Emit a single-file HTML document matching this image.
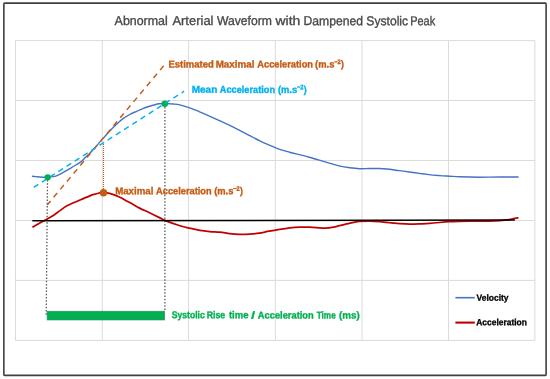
<!DOCTYPE html>
<html><head><meta charset="utf-8"><title>Abnormal Arterial Waveform</title>
<style>
html,body{margin:0;padding:0;background:#fff;}
svg{display:block;font-family:"Liberation Sans",sans-serif;text-rendering:geometricPrecision;}
.b{font-weight:bold;font-size:10px;stroke-width:0.35px;}
.t{font-size:12.9px;stroke-width:0.35px;}
.l{font-weight:bold;font-size:9px;stroke-width:0.3px;}
</style></head><body>
<svg width="550" height="379" viewBox="0 0 550 379">
<rect x="0" y="0" width="550" height="379" fill="#fff"/>
<rect x="3.85" y="3.1" width="542.25" height="372.25" rx="0.8" fill="#fff" stroke="#404040" stroke-width="1.6"/>
<g stroke="#dbdbdb" stroke-width="1" fill="none"><path d="M15.5 40.6V340.4"/><path d="M102.3 40.6V340.4"/><path d="M188.6 40.6V340.4"/><path d="M275.3 40.6V340.4"/><path d="M362.0 40.6V340.4"/><path d="M448.5 40.6V340.4"/><path d="M534.9 40.6V340.4"/><path d="M15.5 40.6H534.9"/><path d="M15.5 100.5H534.9"/><path d="M15.5 160.5H534.9"/><path d="M15.5 220.5H534.9"/><path d="M15.5 280.4H534.9"/><path d="M15.5 340.4H534.9"/></g>
<text class="t" y="25.1" fill="#484848" stroke="#484848" transform="matrix(1 0.0010 0 1 0 -0.275)"><tspan x="114.60" textLength="53.17" lengthAdjust="spacingAndGlyphs">Abnormal</tspan> <tspan x="172.40" textLength="41.11" lengthAdjust="spacingAndGlyphs">Arterial</tspan> <tspan x="216.90" textLength="55.07" lengthAdjust="spacingAndGlyphs">Waveform</tspan> <tspan x="275.57" textLength="24.78" lengthAdjust="spacingAndGlyphs">with</tspan> <tspan x="303.53" textLength="59.41" lengthAdjust="spacingAndGlyphs">Dampened</tspan> <tspan x="366.35" textLength="41.75" lengthAdjust="spacingAndGlyphs">Systolic</tspan> <tspan x="410.23" textLength="24.92" lengthAdjust="spacingAndGlyphs">Peak</tspan></text>
<g fill="none" stroke-linecap="butt">
<path d="M47.5 180L46.2 316M164.9 107V311" stroke="#5a5a5a" stroke-width="1.3" stroke-dasharray="1.6 1.65"/>
<path d="M103.5 142V190" stroke="#C55A11" stroke-width="1.1" stroke-dasharray="1 1"/>
<path d="M32.5 176.2C33.1 176.3 34.8 176.5 36.0 176.6C37.2 176.7 38.7 176.9 40.0 177.0C41.3 177.1 42.7 177.2 44.0 177.2C45.3 177.2 45.7 177.2 47.7 177.0C49.7 176.8 53.1 176.9 55.8 176.1C58.5 175.3 61.1 173.5 63.7 172.1C66.3 170.7 68.9 169.2 71.6 167.6C74.2 166.0 77.8 163.9 79.6 162.7C81.4 161.5 81.5 161.3 82.4 160.5C83.3 159.7 83.7 159.1 85.0 157.8C86.3 156.5 88.3 154.6 90.0 152.9C91.7 151.2 93.3 149.3 95.0 147.5C96.7 145.7 98.7 143.4 100.0 141.9C101.3 140.4 101.8 139.7 103.0 138.4C104.2 137.1 105.7 135.4 107.0 134.0C108.3 132.6 109.7 131.1 111.0 129.7C112.3 128.3 113.7 127.0 115.0 125.7C116.3 124.4 117.7 123.2 119.0 122.0C120.3 120.8 121.8 119.5 123.0 118.6C124.2 117.6 125.2 117.0 126.5 116.3C127.8 115.5 129.1 114.8 130.5 114.1C131.9 113.4 133.4 112.7 135.0 112.0C136.6 111.3 138.0 110.6 140.0 109.8C142.0 109.0 144.7 107.8 147.2 107.0C149.7 106.2 153.1 105.2 155.0 104.7C156.9 104.2 156.8 104.0 158.4 103.8C160.0 103.6 162.1 103.5 164.7 103.5C167.3 103.5 171.7 103.9 174.2 104.1C176.7 104.3 177.2 104.3 179.8 104.9C182.4 105.5 186.4 106.7 189.7 107.8C193.0 108.9 196.3 110.4 199.6 111.8C202.9 113.2 206.2 114.6 209.5 116.1C212.8 117.6 216.1 119.2 219.4 120.7C222.7 122.2 226.0 123.6 229.3 125.2C232.6 126.8 235.9 128.5 239.2 130.2C242.5 131.9 245.7 133.5 249.1 135.3C252.5 137.1 256.4 139.2 259.9 140.9C263.3 142.6 266.5 143.9 269.8 145.3C273.1 146.7 276.4 148.2 279.7 149.3C283.0 150.5 286.3 151.3 289.6 152.2C292.9 153.1 296.2 153.8 299.5 154.6C302.8 155.4 306.1 156.3 309.4 157.2C312.7 158.1 316.0 159.1 319.3 160.1C322.6 161.1 325.9 162.1 329.2 163.1C332.5 164.1 335.7 165.1 339.1 165.9C342.6 166.7 346.4 167.3 349.9 167.8C353.3 168.3 356.5 168.6 359.8 168.7C363.1 168.8 366.4 168.5 369.7 168.5C373.0 168.5 376.3 168.4 379.6 168.5C382.9 168.6 386.2 169.0 389.5 169.3C392.8 169.7 396.1 170.2 399.4 170.6C402.7 171.0 406.0 171.5 409.3 172.0C412.6 172.5 415.9 173.0 419.2 173.4C422.5 173.8 425.7 174.2 429.1 174.6C432.6 175.0 436.4 175.3 439.9 175.6C443.3 175.9 446.5 176.0 449.8 176.2C453.1 176.4 454.8 176.6 459.7 176.8C464.6 177.0 472.9 177.2 479.5 177.2C486.1 177.2 492.9 177.0 499.3 177.0C505.7 177.0 515.0 177.0 518.1 177.0" stroke="#4472C4" stroke-width="1.4" stroke-linecap="round" stroke-linejoin="round"/>
<path d="M163.7 65.8L47.2 205" stroke="#C55A11" stroke-width="1.45" stroke-dasharray="5.6 4.77"/>
<path d="M32.9 226.9C34.0 226.2 37.9 224.1 39.8 223.0C41.7 221.9 43.0 221.2 44.5 220.4C46.0 219.6 47.5 218.8 49.0 217.9C50.5 217.0 51.9 216.4 53.7 215.2C55.5 214.0 57.5 212.4 59.6 210.9C61.7 209.4 64.2 207.4 66.5 206.1C68.8 204.8 71.3 203.8 73.5 202.8C75.7 201.8 76.8 201.3 79.4 200.2C82.0 199.1 87.0 197.0 89.3 196.1C91.6 195.2 91.3 195.2 93.0 194.7C94.7 194.2 97.5 193.4 99.2 193.0C101.0 192.6 101.8 192.4 103.5 192.5C105.2 192.6 106.8 192.6 109.5 193.3C112.2 194.1 116.0 195.5 119.4 197.0C122.8 198.6 126.3 200.8 129.7 202.6C133.1 204.4 136.3 206.4 139.6 208.1C142.9 209.8 146.2 211.1 149.5 212.7C152.8 214.3 156.8 216.3 159.4 217.6C162.0 218.9 162.0 219.2 165.3 220.6C168.6 221.9 175.2 224.2 179.2 225.5C183.2 226.8 185.9 227.4 189.4 228.2C192.9 229.0 196.5 229.8 199.9 230.4C203.3 231.0 206.5 231.3 209.8 231.6C213.1 231.9 216.4 231.9 219.7 232.2C223.0 232.5 226.3 233.2 229.6 233.6C232.9 234.0 236.2 234.3 239.5 234.4C242.8 234.5 246.1 234.4 249.4 234.2C252.7 234.0 256.0 233.7 259.3 233.2C262.6 232.7 265.8 231.8 269.2 231.2C272.6 230.6 276.1 230.0 279.5 229.4C282.9 228.8 286.5 228.2 289.9 227.8C293.3 227.4 296.5 227.2 299.8 227.1C303.1 227.0 306.4 227.0 309.7 227.1C313.0 227.2 317.0 227.7 319.6 227.9C322.2 228.1 323.2 228.2 325.5 228.1C327.8 228.0 331.2 227.5 333.5 227.1C335.8 226.7 336.8 226.3 339.4 225.7C342.0 225.1 346.0 224.0 349.3 223.3C352.6 222.6 355.8 221.8 359.2 221.4C362.6 221.0 366.1 221.0 369.5 221.0C372.9 221.0 376.5 221.3 379.9 221.6C383.3 221.9 386.5 222.3 389.8 222.7C393.1 223.0 396.4 223.5 399.7 223.7C403.0 223.9 406.3 224.1 409.6 224.1C412.9 224.1 416.2 224.0 419.5 223.9C422.8 223.8 426.1 223.5 429.4 223.3C432.7 223.1 436.0 222.8 439.3 222.5C442.6 222.2 445.9 221.9 449.2 221.7C452.5 221.5 455.6 221.4 459.1 221.3C462.6 221.2 466.5 221.1 470.0 221.1C473.5 221.1 475.8 221.2 480.0 221.2C484.2 221.2 490.8 221.2 495.0 221.0C499.2 220.8 502.2 220.5 505.0 220.2C507.8 219.9 509.9 219.4 512.0 219.0C514.1 218.6 516.8 218.0 517.8 217.8" stroke="#C00000" stroke-width="1.75" stroke-linecap="round" stroke-linejoin="round"/>
<path d="M32.3 220.8L514.8 220.0" stroke="#000" stroke-width="1.6"/>
</g>
<circle cx="164.8" cy="103.7" r="3.25" fill="#00B050"/>
<path d="M33.7 187.3 L184.1 91.2" stroke="#00B0F0" stroke-width="1.4" stroke-dasharray="5.5 4.25" fill="none"/>
<circle cx="47.7" cy="177.3" r="3.15" fill="#00B050"/>
<circle cx="103.5" cy="192.8" r="3.7" fill="#C55A11"/>
<rect x="47.1" y="311.2" width="117.6" height="8.8" fill="#00B050" stroke="#2F8F6A" stroke-width="0.6"/>
<text class="b" y="67.5" fill="#C55A11" stroke="#C55A11" transform="matrix(1 0.0010 0 1 0 -0.256)"><tspan x="168.38" textLength="45.44" lengthAdjust="spacingAndGlyphs">Estimated</tspan> <tspan x="215.66" textLength="38.91" lengthAdjust="spacingAndGlyphs">Maximal</tspan> <tspan x="257.31" textLength="55.75" lengthAdjust="spacingAndGlyphs">Acceleration</tspan> <tspan x="315.08" textLength="19.26" lengthAdjust="spacingAndGlyphs">(m.s</tspan><tspan x="334.17" textLength="6.54" lengthAdjust="spacingAndGlyphs" dy="-3.6" font-size="6.6">−2</tspan><tspan x="341.00" textLength="2.92" lengthAdjust="spacingAndGlyphs" dy="3.6">)</tspan></text>
<text class="b" y="92.9" fill="#00B0F0" stroke="#00B0F0" transform="matrix(1 0.0010 0 1 0 -0.249)"><tspan x="191.65" textLength="25.66" lengthAdjust="spacingAndGlyphs">Mean</tspan> <tspan x="219.82" textLength="55.24" lengthAdjust="spacingAndGlyphs">Acceleration</tspan> <tspan x="277.88" textLength="19.26" lengthAdjust="spacingAndGlyphs">(m.s</tspan><tspan x="296.97" textLength="6.54" lengthAdjust="spacingAndGlyphs" dy="-3.6" font-size="6.6">−2</tspan><tspan x="303.80" textLength="2.92" lengthAdjust="spacingAndGlyphs" dy="3.6">)</tspan></text>
<text class="b" y="194.3" fill="#C55A11" stroke="#C55A11" transform="matrix(1 0.0010 0 1 0 -0.179)"><tspan x="115.17" textLength="38.19" lengthAdjust="spacingAndGlyphs">Maximal</tspan> <tspan x="156.12" textLength="55.45" lengthAdjust="spacingAndGlyphs">Acceleration</tspan> <tspan x="214.18" textLength="19.26" lengthAdjust="spacingAndGlyphs">(m.s</tspan><tspan x="233.27" textLength="6.54" lengthAdjust="spacingAndGlyphs" dy="-3.6" font-size="6.6">−2</tspan><tspan x="240.10" textLength="2.92" lengthAdjust="spacingAndGlyphs" dy="3.6">)</tspan></text>
<text class="b" y="318.4" fill="#00B050" stroke="#00B050" transform="matrix(1 0.0010 0 1 0 -0.266)"><tspan x="171.68" textLength="33.14" lengthAdjust="spacingAndGlyphs">Systolic</tspan> <tspan x="206.63" textLength="18.65" lengthAdjust="spacingAndGlyphs">Rise</tspan> <tspan x="228.90" textLength="19.59" lengthAdjust="spacingAndGlyphs">time</tspan> <tspan x="251.23" textLength="3.77" lengthAdjust="spacingAndGlyphs">/</tspan> <tspan x="257.81" textLength="55.95" lengthAdjust="spacingAndGlyphs">Acceleration</tspan> <tspan x="316.72" textLength="19.04" lengthAdjust="spacingAndGlyphs">Time</tspan> <tspan x="339.06" textLength="20.61" lengthAdjust="spacingAndGlyphs">(ms)</tspan></text>
<path d="M455.4 297.7H474.8" stroke="#4472C4" stroke-width="1.6"/>
<path d="M455.4 322.6H474.8" stroke="#C00000" stroke-width="2.1"/>
<text class="l" y="300.7" fill="#000" stroke="#000" transform="matrix(1 0.0010 0 1 0 -0.493)"><tspan x="476.56" textLength="32.05" lengthAdjust="spacingAndGlyphs">Velocity</tspan></text>
<text class="l" y="325.2" fill="#000" stroke="#000" transform="matrix(1 0.0010 0 1 0 -0.501)"><tspan x="476.23" textLength="50.68" lengthAdjust="spacingAndGlyphs">Acceleration</tspan></text>
</svg>
</body></html>
